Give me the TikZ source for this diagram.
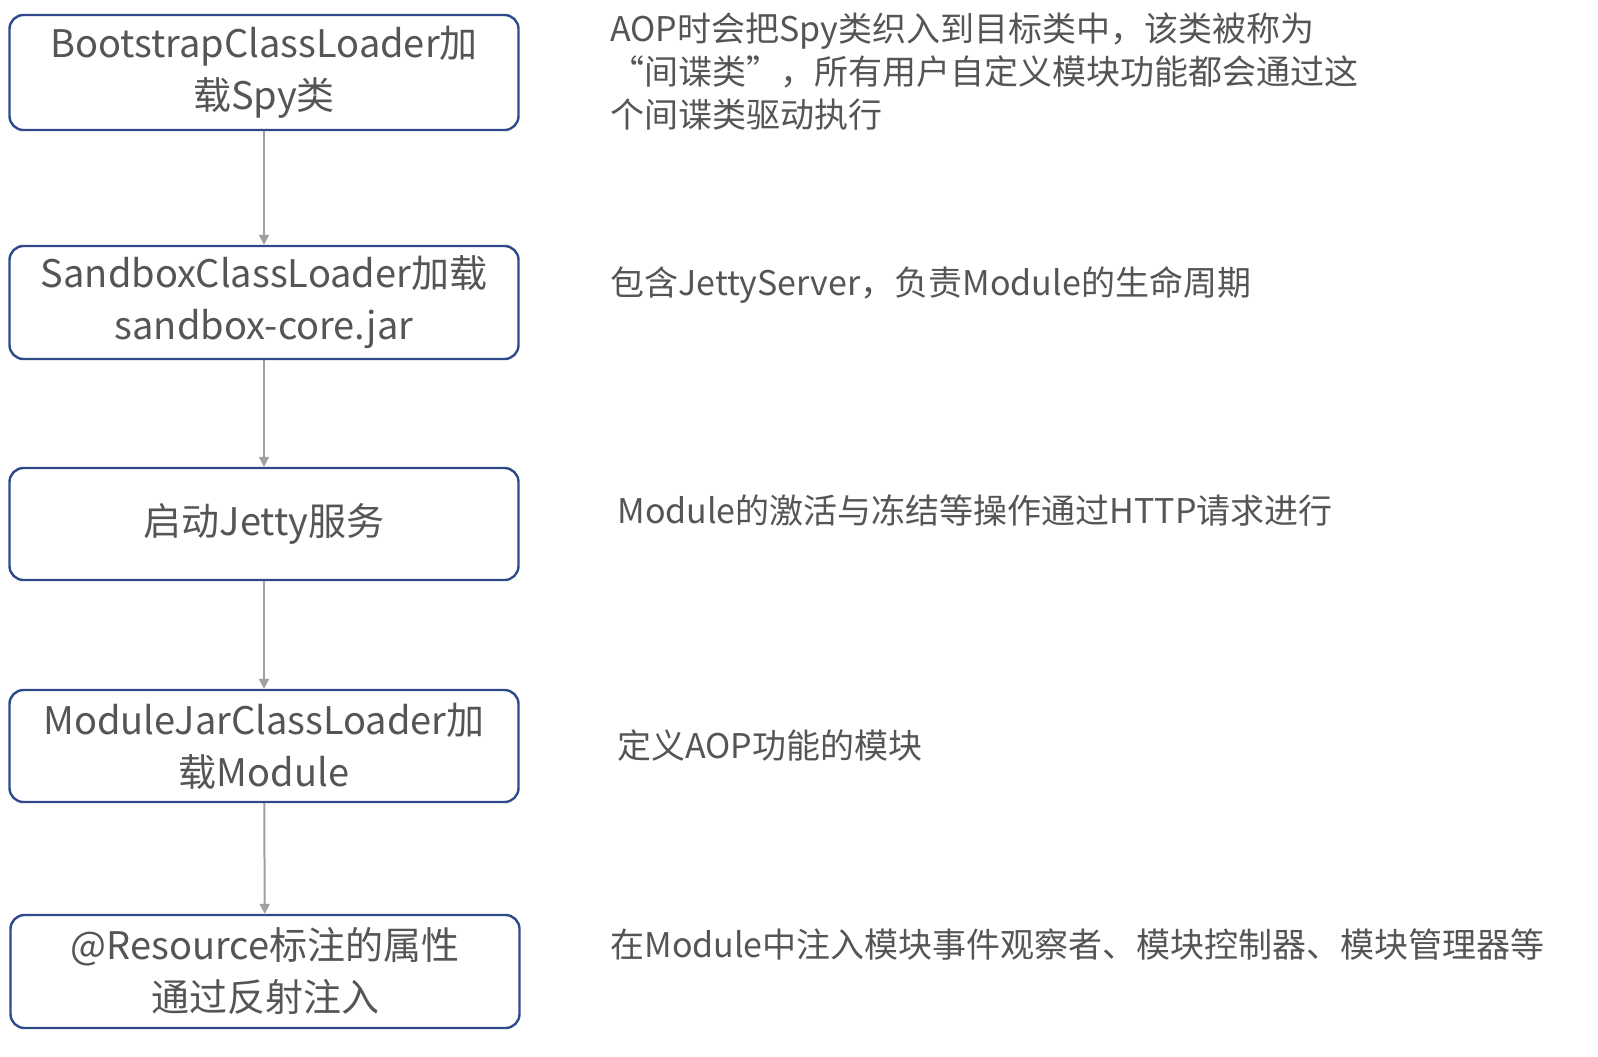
\documentclass[tikz,border=0pt]{standalone}
\usepackage{fontspec}
\setmainfont{Noto Sans CJK SC}
\usetikzlibrary{arrows.meta}
\definecolor{bd}{HTML}{2F4A8A}
\definecolor{tx}{HTML}{555555}
\definecolor{ar}{HTML}{A0A0A0}
\begin{document}
\begin{tikzpicture}[x=0.5pt,y=-0.5pt,
  box/.style={draw=bd,line width=1.2pt,rounded corners=7pt,minimum width=254.5pt,align=center,text=tx,font=\fontsize{19}{26}\selectfont},
  note/.style={anchor=west,align=left,text=tx,font=\fontsize{17}{21.5}\selectfont,inner sep=0},
  arr/.style={draw=ar,line width=1pt,-{Triangle[length=5pt,width=5pt]}}]
\useasboundingbox (0,0) rectangle (1598,1056);
\node[box,minimum height=57.5pt] (b1) at (264,72.5) {BootstrapClassLoader加\\载Spy类};
\node[box,minimum height=56.5pt] (b2) at (264,302.5) {SandboxClassLoader加载\\sandbox-core.jar};
\node[box,minimum height=56pt] (b3) at (264,524) {启动Jetty服务};
\node[box,minimum height=56pt] (b4) at (264,746) {ModuleJarClassLoader加\\载Module};
\node[box,minimum height=56.5pt] (b5) at (265,971.5) {@Resource标注的属性\\通过反射注入};
\draw[arr] (b1) -- (b2);
\draw[arr] (b2) -- (b3);
\draw[arr] (b3) -- (b4);
\draw[arr] (b4) -- (b5);
\node[note] (n1) at (610,72) {AOP时会把Spy类织入到目标类中，该类被称为\\“间谍类”，所有用户自定义模块功能都会通过这\\个间谍类驱动执行};
\node[note] (n2) at (610,285) {包含JettyServer，负责Module的生命周期};
\node[note] (n3) at (617,510) {Module的激活与冻结等操作通过HTTP请求进行};
\node[note] (n4) at (617,745) {定义AOP功能的模块};
\node[note] (n5) at (610,945) {在Module中注入模块事件观察者、模块控制器、模块管理器等};
\end{tikzpicture}
\end{document}
